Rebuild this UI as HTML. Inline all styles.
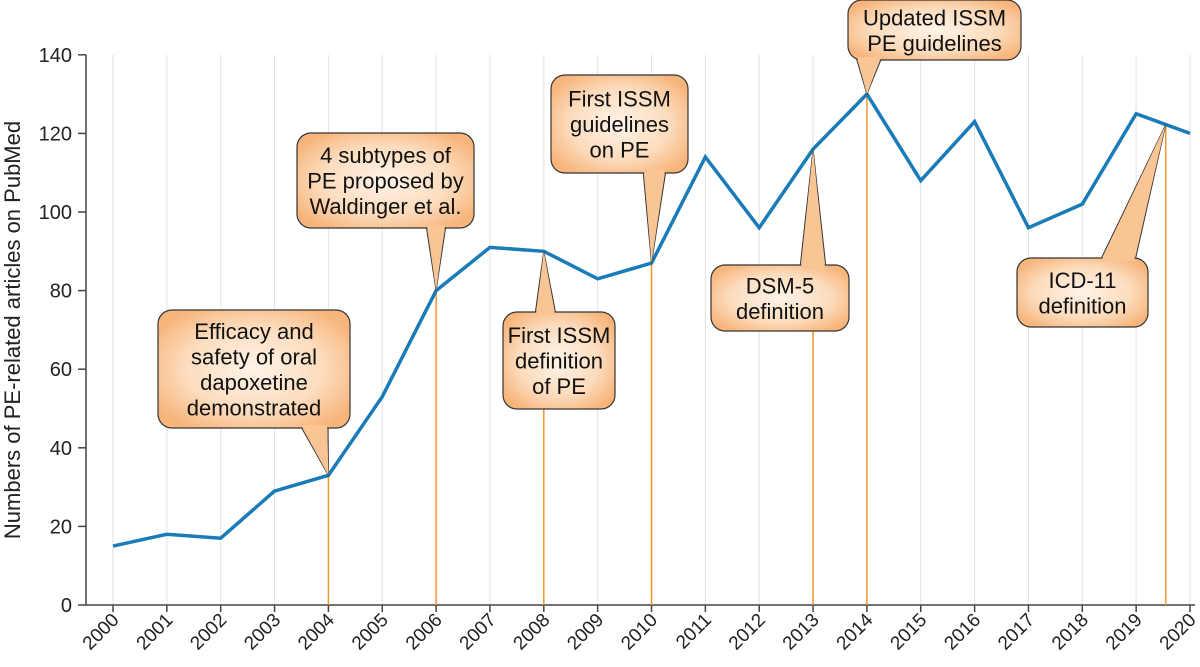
<!DOCTYPE html>
<html><head><meta charset="utf-8"><style>
body{margin:0;background:#fff}
svg{display:block;font-family:"Liberation Sans",sans-serif}
</style></head><body>
<svg id="chart" width="1200" height="667">
<defs>
<radialGradient id="cg" cx="50%" cy="50%" r="60%">
<stop offset="0" stop-color="#fff3e8"/><stop offset="0.6" stop-color="#fcdcbd"/><stop offset="1" stop-color="#f7b57c"/>
</radialGradient>
</defs>
<g id="grid"></g><g id="axes"></g><g id="vlines"></g><g id="series"></g><g id="callouts"></g>
<text transform="translate(20,330) rotate(-90)" text-anchor="middle" font-size="22" fill="#222">Numbers of PE-related articles on PubMed</text>
</svg>
<script>
const years=[2000,2001,2002,2003,2004,2005,2006,2007,2008,2009,2010,2011,2012,2013,2014,2015,2016,2017,2018,2019,2020];
const counts=[15,18,17,29,33,53,80,91,90,83,87,114,96,116,130,108,123,96,102,125,120];
const yTicks=[0,20,40,60,80,100,120,140];
const eventYears=[2004,2006,2008,2010,2013,2014,2019.55];
const NS="http://www.w3.org/2000/svg";
const X=v=>113+(v-2000)*53.85;
const Y=v=>605-v*3.93;
function mk(tag,attrs,parent,text){const e=document.createElementNS(NS,tag);for(const k in attrs)e.setAttribute(k,attrs[k]);if(text!==undefined)e.textContent=text;document.getElementById(parent).appendChild(e);return e;}
years.forEach(y=>{const g=mk('line',{x1:X(y),x2:X(y),y1:Y(140),y2:Y(0),stroke:'#e2e2e2','stroke-width':1},'grid');


const t=mk('line',{x1:X(y),x2:X(y),y1:605,y2:612,stroke:'#444','stroke-width':1.5},'axes');


const l=mk('text',{transform:`translate(${X(y)+7},621) rotate(-45)`,'text-anchor':'end','font-size':19,fill:'#222'},'axes',String(y));

});
yTicks.forEach(v=>{const t=mk('line',{x1:78,x2:86,y1:Y(v),y2:Y(v),stroke:'#444','stroke-width':1.5},'axes');


const l=mk('text',{x:72,y:Y(v)+7,'text-anchor':'end','font-size':20,fill:'#222'},'axes',String(v));

});
const ax=mk('path',{d:`M86,${Y(140)} V605 H1195`,fill:'none',stroke:'#444','stroke-width':1.5},'axes');


function valAt(yr){const i=Math.min(Math.floor(yr-2000),years.length-2);const f=yr-years[i];return counts[i]+(counts[i+1]-counts[i])*f;}
eventYears.forEach(e=>{const v=mk('line',{x1:X(e),x2:X(e),y1:Y(valAt(e)),y2:605,stroke:'#f0962e','stroke-width':1.5},'vlines');

});
const pl=mk('polyline',{points:years.map((y,i)=>X(y)+','+Y(counts[i])).join(' '),fill:'none',stroke:'#1a7bb9','stroke-width':3.5,'stroke-linejoin':'miter'},'series');


const callouts=[
{n:'dapoxetine',x:158,y:310,w:192,h:118,lines:['Efficacy and','safety of oral','dapoxetine','demonstrated'],tip:[X(2004),Y(33)],b:[300,328],top:false},
{n:'subtypes',x:297,y:133,w:177,h:95,lines:['4 subtypes of','PE proposed by','Waldinger et al.'],tip:[X(2006),Y(80)],b:[426,446],top:false},
{n:'issm-guidelines',x:551,y:75,w:137,h:98,lines:['First ISSM','guidelines','on PE'],tip:[X(2010),Y(87)],b:[643,666],top:false},
{n:'issm-definition',x:503,y:312,w:112,h:97,lines:['First ISSM','definition','of PE'],tip:[X(2008),Y(90)],b:[535,556],top:true},
{n:'dsm5',x:711,y:265,w:138,h:66,lines:['DSM-5','definition'],tip:[X(2013),Y(116)],b:[800,826],top:true},
{n:'updated-issm',x:848,y:0,w:173,h:60,lines:['Updated ISSM','PE guidelines'],tip:[X(2014),Y(130)],b:[856,882],top:false},
{n:'icd11',x:1017,y:258,w:131,h:69,lines:['ICD-11','definition'],tip:[X(2019.55),Y(valAt(2019.55))],b:[1100,1135],top:true}];
callouts.forEach(c=>{
const g=document.createElementNS(NS,'g');document.getElementById('callouts').appendChild(g);


const by=c.top?c.y:c.y+c.h;const by2=c.top?by+3:by-3;
const tail=`M${c.b[0]},${by2} L${c.tip[0]},${c.tip[1]} L${c.b[1]},${by2}`;
const p1=document.createElementNS(NS,'path');p1.setAttribute('d',tail);p1.setAttribute('fill','#f9c594');p1.setAttribute('stroke','#333');p1.setAttribute('stroke-width','1');g.appendChild(p1);
const r=document.createElementNS(NS,'rect');for(const [k,v] of Object.entries({x:c.x,y:c.y,width:c.w,height:c.h,rx:14,fill:'url(#cg)',stroke:'#333','stroke-width':1.2}))r.setAttribute(k,v);g.appendChild(r);
const p2=document.createElementNS(NS,'path');p2.setAttribute('d',`M${c.b[0]+1},${by2} L${c.tip[0]},${c.tip[1]} L${c.b[1]-1},${by2}Z`);p2.setAttribute('fill','#f9c594');g.appendChild(p2);
const lh=25.5,start=c.y+c.h/2-(c.lines.length-1)*lh/2+8;
c.lines.forEach((t,i)=>{const tx=document.createElementNS(NS,'text');tx.setAttribute('x',c.x+c.w/2);tx.setAttribute('y',start+i*lh);tx.setAttribute('text-anchor','middle');tx.setAttribute('font-size','22');tx.setAttribute('fill','#111');tx.textContent=t;g.appendChild(tx);});
});
</script>
</body></html>
